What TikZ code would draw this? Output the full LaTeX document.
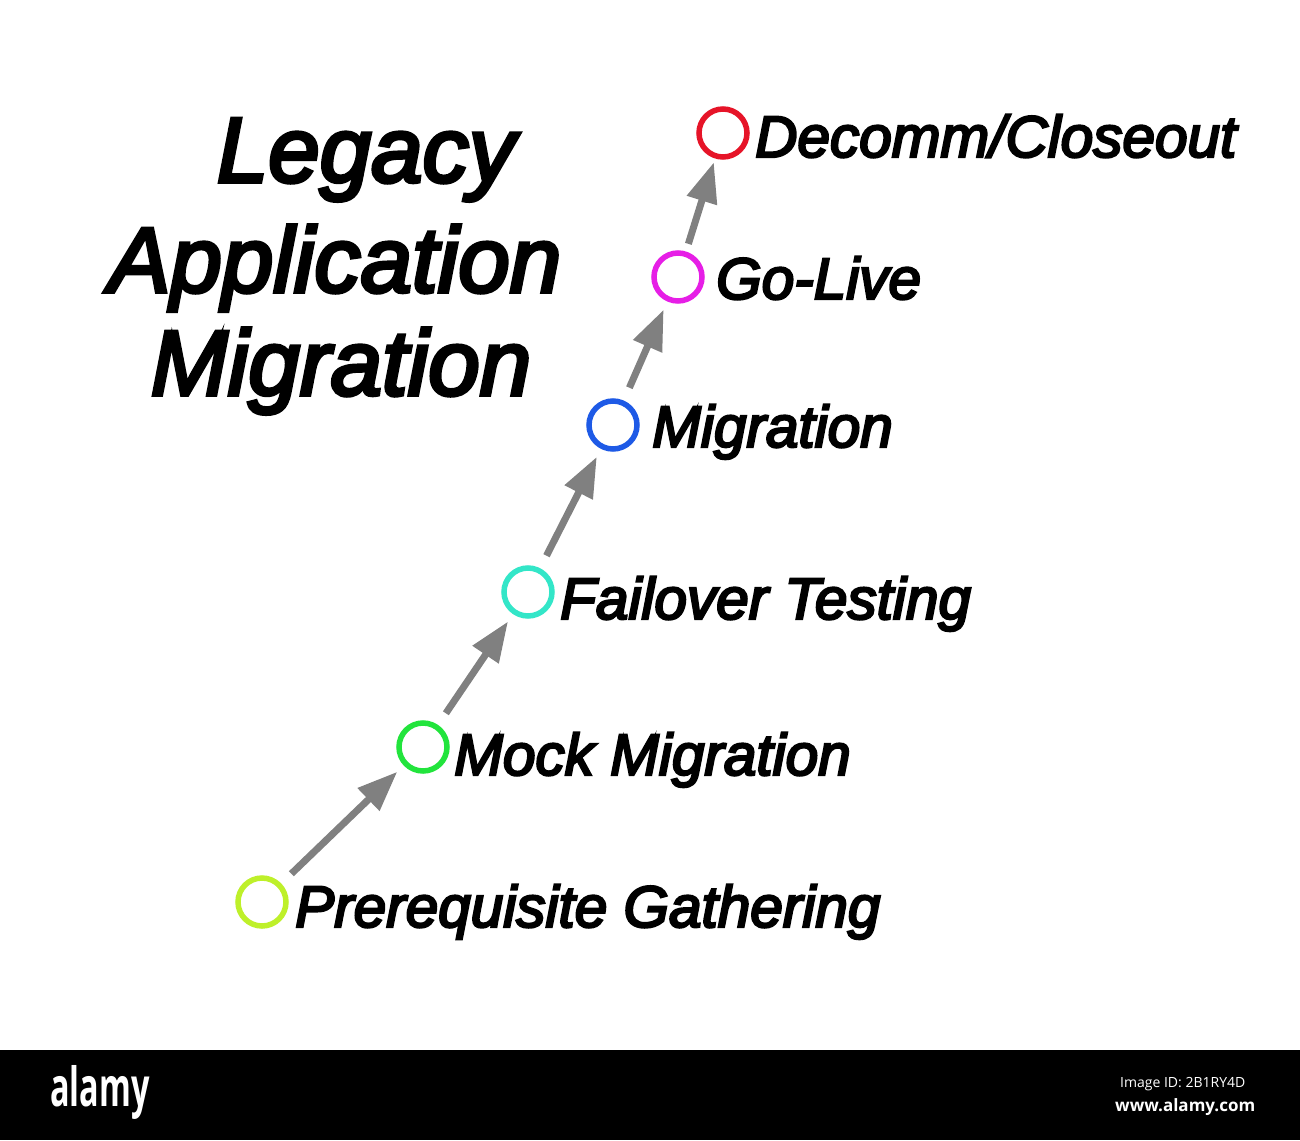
\documentclass[tikz,border=0pt]{standalone}
\usepackage{fontspec}
\usetikzlibrary{arrows.meta,calc,positioning}
\newfontfamily\stagefont{Liberation Sans}[FakeBold=4]
\newfontfamily\stockfont{Open Sans}
\definecolor{prereqcol}{HTML}{BEF02A}
\definecolor{mockcol}{HTML}{22E43C}
\definecolor{failcol}{HTML}{33E6C8}
\definecolor{migcol}{HTML}{1E5AE6}
\definecolor{livecol}{HTML}{E61EE6}
\definecolor{decommcol}{HTML}{E61428}
\tikzset{
	stage/.style={circle,draw=#1,line width=5.5pt,minimum size=48pt,inner sep=0pt},
	stagename/.style={font=\stagefont\itshape\fontsize{58.5}{62}\selectfont,inner sep=0pt,anchor=base west},
	headline/.style={font=\stagefont\itshape\fontsize{92.5}{100}\selectfont,inner sep=0pt,anchor=base},
	stagearrow/.style={draw=gray,line width=7pt,-{Triangle[length=40pt,width=30pt]},shorten <=14pt,shorten >=9pt},
}

\begin{document}
\begin{tikzpicture}[x=1pt,y=-1pt]
		\useasboundingbox (0,0) rectangle (1300,1140);
		\fill[white] (0,0) rectangle (1300,1050);
		%
		\node[headline] (t1) at (366,182) {Legacy};
		\node[headline] (t2) at (335,292) {Application};
		\node[headline] (t3) at (341,395) {Migration};
		%
		\node[stage=prereqcol] (c1) at (262,902) {};
		\node[stage=mockcol] (c2) at (423,747) {};
		\node[stage=failcol] (c3) at (528,592) {};
		\node[stage=migcol] (c4) at (613,425) {};
		\node[stage=livecol] (c5) at (678,277) {};
		\node[stage=decommcol] (c6) at (723,133) {};
		%
		\node[stagename] (n1) at ($(c1.center)+(33,25)$) {Prerequisite Gathering};
		\node[stagename] (n2) at ($(c2.center)+(31,28)$) {Mock Migration};
		\node[stagename] (n3) at ($(c3.center)+(32,27)$) {Failover Testing};
		\node[stagename] (n4) at ($(c4.center)+(39,22)$) {Migration};
		\node[stagename] (n5) at ($(c5.center)+(38,22)$) {Go-Live};
		\node[stagename] (n6) at ($(c6.center)+(32,24)$) {Decomm/Closeout};
		%
		\draw[stagearrow] (c1) -- (c2);
		\draw[stagearrow] (c2) -- (c3);
		\draw[stagearrow] (c3) -- (c4);
		\draw[stagearrow] (c4) -- (c5);
		\draw[stagearrow,shorten <=8pt,shorten >=4pt] (c5) -- (c6);
		%
		\fill[black] (0,1050) rectangle (1300,1140);
		\node[font=\stockfont\bfseries\fontsize{54}{54}\selectfont,text=white,inner sep=0pt,anchor=base west] (logo) at (50,1106) {\scalebox{0.6}[1]{alamy}};
		\node[font=\stockfont\fontsize{14}{16}\selectfont,text=white,inner sep=0pt,anchor=base west] (imgid) at (1120,1087) {Image ID: 2B1RY4D};
		\node[font=\stockfont\bfseries\fontsize{17}{19}\selectfont,text=white,inner sep=0pt,anchor=base west] (site) at (1115,1111) {www.alamy.com};
	\end{tikzpicture}
\end{document}
